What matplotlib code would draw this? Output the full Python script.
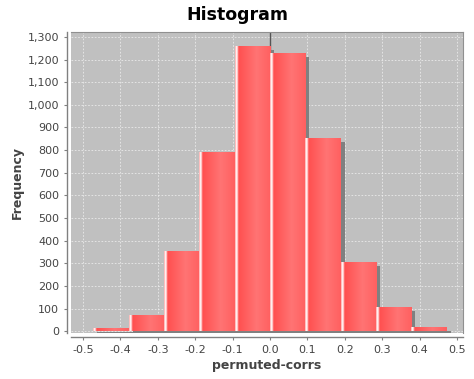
import numpy as np
import matplotlib
matplotlib.use('Agg')
import matplotlib.pyplot as plt
from matplotlib.colors import LinearSegmentedColormap
from matplotlib.patches import Rectangle
from matplotlib.ticker import FuncFormatter

# histogram bins
bin_edges = [-0.4725, -0.378, -0.2835, -0.189, -0.0945, 0.0,
             0.0945, 0.189, 0.2835, 0.378, 0.4725]
counts = [13, 70, 355, 792, 1258, 1227, 852, 307, 106, 20]
x_ticks = [-0.5, -0.4, -0.3, -0.2, -0.1, 0.0, 0.1, 0.2, 0.3, 0.4, 0.5]
y_ticks = [0, 100, 200, 300, 400, 500, 600, 700, 800, 900, 1000, 1100, 1200, 1300]

fig = plt.figure(figsize=(4.74, 3.79), dpi=100)
ax = fig.add_axes([0.1498, 0.1214, 0.8270, 0.7942])
ax.set_facecolor('#c0c0c0')

for s in ['top', 'right']:
    ax.spines[s].set_color('#909090')
    ax.spines[s].set_linewidth(0.8)
for s in ['left', 'bottom']:
    ax.spines[s].set_position(('outward', 3))
    ax.spines[s].set_color('#808080')
    ax.spines[s].set_linewidth(1.0)

ax.set_xticks(x_ticks)
ax.set_yticks(y_ticks)
ax.xaxis.set_major_formatter(FuncFormatter(lambda v, p: '%.1f' % v))
ax.yaxis.set_major_formatter(FuncFormatter(lambda v, p: '{:,}'.format(int(round(v)))))
ax.tick_params(colors='#808080', labelcolor='#444444', labelsize=8, length=2, width=0.8)
ax.grid(True, color='#f2f2f2', linestyle=(0, (2, 2)), linewidth=0.6, alpha=0.85)
ax.set_axisbelow(True)

ax.axvline(0, color='#555555', linewidth=1.0, zorder=1.5)

cmap = LinearSegmentedColormap.from_list('bar', [
    (0.0, '#ff8080'), (0.02, '#ffffff'), (0.06, '#ffe0e0'), (0.1, '#ff5050'),
    (0.6, '#ff7474'), (1.0, '#ff6060')])
grad = np.linspace(0, 1, 128).reshape(1, -1)

dx = 4 / 374.0
dy = 4 / 0.2267
for i in range(len(counts)):
    x0, x1 = bin_edges[i], bin_edges[i + 1]
    h = counts[i]
    ax.add_patch(Rectangle((x0 + dx, -dy), x1 - x0, h, facecolor='#808080',
                           edgecolor='none', zorder=2))
for i in range(len(counts)):
    x0, x1 = bin_edges[i], bin_edges[i + 1]
    h = counts[i]
    im = ax.imshow(grad, cmap=cmap, aspect='auto', extent=(x0, x1, 0, h),
                   interpolation='bilinear', zorder=3)
    clip = Rectangle((x0, 0), x1 - x0, h, transform=ax.transData)
    im.set_clip_path(clip)

ax.set_xlim(-0.532, 0.516)
ax.set_ylim(-8, 1322)

ax.set_xlabel('permuted-corrs', fontsize=9, fontweight='bold', color='#444444', labelpad=3)
ax.set_ylabel('Frequency', fontsize=9, fontweight='bold', color='#444444', labelpad=3)
fig.suptitle('Histogram', fontsize=12.5, fontweight='bold', x=0.5, y=0.985)

fig.savefig('out.png', dpi=100)
